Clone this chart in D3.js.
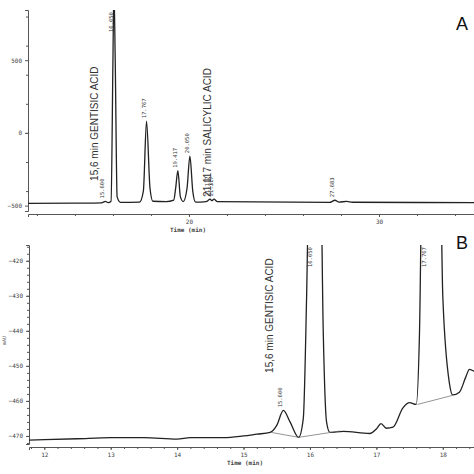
<!DOCTYPE html>
<html><head><meta charset="utf-8">
<script src="https://cdn.jsdelivr.net/npm/d3@7"></script>
<style>body{margin:0;background:#fff}svg{display:block}</style>
</head><body>
<script>
// Panel A trace (time min, signal)
const traceA = [[11.5,-485],[14,-483],[15.4,-481],[15.6,-471],[15.75,-480],[15.9,-470],[16.0,500],[16.05,1000],[16.12,500],[16.22,-440],[16.4,-478],[17.4,-476],[17.6,-400],[17.767,80],[17.95,-380],[18.1,-470],[18.8,-472],[19.2,-462],[19.3,-380],[19.417,-260],[19.55,-440],[19.7,-472],[19.9,-380],[20.05,-160],[20.2,-400],[20.35,-476],[20.9,-472],[21.117,-456],[21.2,-466],[21.317,-456],[21.5,-473],[27.4,-478],[27.683,-463],[27.9,-476],[28.3,-471],[28.6,-477],[35,-479]];
const peaksA = [[15.6,-471,"15.600"],[16.05,840,"16.050"],[17.767,80,"17.767"],[19.417,-260,"19.417"],[20.05,-160,"20.050"],[21.117,-456,"21.117"],[21.317,-456,"21.317"],[27.683,-463,"27.683"]];
const ticksA = [-500,0,500];
// Panel B trace (zoom)
const traceB = [[11.77,-471.2],[12.5,-470.8],[13,-470.5],[13.5,-470.5],[14,-470.9],[14.2,-470.5],[14.7,-470.5],[15,-470],[15.2,-469.5],[15.4,-469],[15.5,-467],[15.6,-462.7],[15.7,-466],[15.83,-470.4],[15.9,-465],[15.95,-430],[16.0,-380],[16.15,-380],[16.2,-440],[16.25,-466],[16.3,-469],[16.5,-468.7],[16.9,-469.3],[17.0,-468],[17.07,-466.5],[17.15,-467.8],[17.25,-467.5],[17.4,-462],[17.5,-460.5],[17.6,-461],[17.65,-440],[17.7,-380],[17.95,-380],[18.0,-430],[18.1,-455],[18.15,-458.3],[18.25,-457.5],[18.35,-453],[18.4,-451],[18.47,-451.5]];
const baselinesB = [[[15.42,-469],[15.83,-470.4],[16.45,-468.6]],[[17.62,-461],[18.15,-458.4]]];
const peaksB = [[15.6,-462.7,"15.600"],[16.05,-415,"16.050"],[17.767,-415,"17.767"]];
const ticksB = [-470,-460,-450,-440,-430,-420];

const svg = d3.select("body").append("svg").attr("width",474).attr("height",474);
const mono = "DejaVu Sans Mono";
const ink = "#222";

function panel(o){
  const x = d3.scaleLinear().domain(o.xd).range([o.x0,474]);
  const y = d3.scaleLinear().domain(o.yd).range([o.y1,o.y0]);
  const g = svg.append("g");
  const id = "clip"+o.name;
  svg.append("clipPath").attr("id",id).append("rect").attr("x",o.x0).attr("y",o.y0).attr("width",474-o.x0).attr("height",o.y1-o.y0+4);
  // axes
  const ya = g.append("g").attr("transform",`translate(${o.x0},0)`).call(d3.axisLeft(y).tickValues(o.yt).tickSize(3).tickFormat(d3.format("d")));
  const yminor = g.append("g").attr("transform",`translate(${o.x0},0)`).call(d3.axisLeft(y).ticks(o.ym).tickSize(2).tickFormat(""));
  const xa = g.append("g").attr("transform",`translate(0,${o.y1+3})`).call(d3.axisBottom(x).tickValues(o.xt).tickSize(3).tickFormat(d3.format("d")));
  const xminor = g.append("g").attr("transform",`translate(0,${o.y1+3})`).call(d3.axisBottom(x).ticks(o.xm).tickSize(2).tickFormat(""));
  [ya,yminor,xa,xminor].forEach(a=>{a.selectAll("path,line").attr("stroke","#555");a.selectAll("text").attr("font-family",mono).attr("font-size",6).attr("fill","#444");});
  xminor.select("path").remove(); yminor.select("path").remove();
  g.append("text").attr("x",x(o.xl)).attr("y",o.y1+21).attr("font-family",mono).attr("font-size",6).attr("font-weight","bold").attr("fill","#444").text("Time (min)");
  const cg = g.append("g").attr("clip-path",`url(#${id})`);
  const line = d3.line().x(d=>x(d[0])).y(d=>y(d[1])).curve(d3.curveMonotoneX);
  cg.append("path").attr("d",line(o.trace)).attr("fill","none").attr("stroke",ink).attr("stroke-width",1.3);
  const straight = d3.line().x(d=>x(d[0])).y(d=>y(d[1]));
  (o.base||[]).forEach(b=>cg.append("path").attr("d",straight(b)).attr("fill","none").attr("stroke","#666").attr("stroke-width",0.7));
  o.peaks.forEach(p=>{
    const px = x(p[0])-1, py = Math.max(y(p[1])-3, o.y0+22);
    g.append("text").attr("transform",`translate(${px},${py}) rotate(-90)`).attr("font-family",mono).attr("font-size",5.5).attr("fill","#333").text(p[2]);
  });
  g.append("text").attr("x",456).attr("y",o.y0+ (o.name==="A"?20:4)).attr("font-family","Liberation Sans").attr("font-size",18).attr("fill","#111").text(o.name);
  return {x,y,g};
}

const A = panel({name:"A",xd:[11.53,35],yd:[-537,845],x0:28,y0:10,y1:211,yt:ticksA,ym:8,xt:[20,30],xm:12,xl:19,trace:traceA,peaks:peaksA});
function label(p,t,px,py){p.g.append("text").attr("transform",`translate(${px},${py}) rotate(-90)`).attr("font-family","Liberation Sans").attr("font-size",10).attr("fill","#333").text(t);}
label(A,"15,6 min GENTISIC ACID",A.x(15.2),A.y(-330));
label(A,"21,117 min SALICYLIC ACID",A.x(21.15),A.y(-440));

const B = panel({name:"B",xd:[11.77,18.47],yd:[-472.3,-415.5],x0:29,y0:245,y1:444,yt:ticksB,ym:28,xt:[12,13,14,15,16,17,18],xm:33,xl:14.75,trace:traceB,peaks:peaksB,base:baselinesB});
label(B,"15,6 min GENTISIC ACID",B.x(15.45),B.y(-452));
B.g.append("text").attr("transform","translate(6,345) rotate(-90)").attr("font-family",mono).attr("font-size",5).attr("fill","#666").text("mAU");
</script>
</body></html>
